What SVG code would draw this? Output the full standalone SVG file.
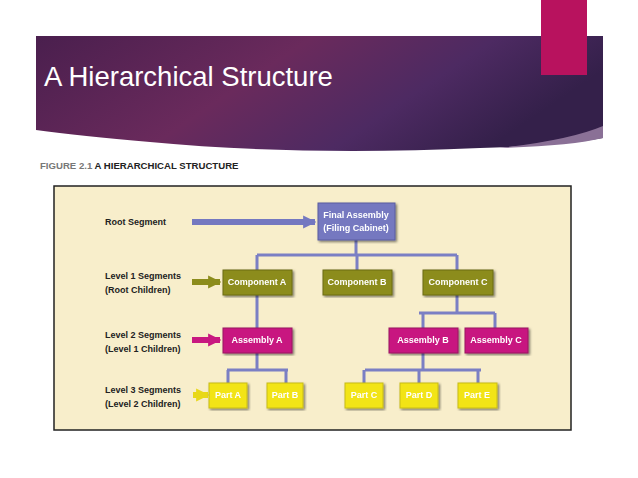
<svg xmlns="http://www.w3.org/2000/svg" width="638" height="478" viewBox="0 0 638 478">
<defs>
<linearGradient id="ban" x1="0" y1="0" x2="1" y2="0.3">
<stop offset="0" stop-color="#4a1f4e"/><stop offset="0.45" stop-color="#6a2a5c"/><stop offset="0.75" stop-color="#4d2a62"/><stop offset="1" stop-color="#34204a"/>
</linearGradient>
<marker id="ah" viewBox="0 0 10 10" refX="9" refY="5" markerWidth="2.2" markerHeight="2.2" orient="auto"><path d="M0,0L10,5L0,10z" fill="context-stroke"/></marker>
<filter id="sh"><feDropShadow dx="1.5" dy="1.5" stdDeviation="0.8" flood-opacity="0.5"/></filter>
</defs>
<style>
.lab{font-family:"Liberation Sans",sans-serif;font-weight:bold;font-size:9px;fill:#222}
.nt{font-family:"Liberation Sans",sans-serif;font-weight:bold;font-size:9px;fill:#fff;text-anchor:middle}
.ln{stroke:#7b7fc4;stroke-width:3;fill:none}
.blue{fill:#7478c0;stroke:#5a5ea0}
.ol{fill:#8c8c1c;stroke:#6b6b10}
.mg{fill:#c81880;stroke:#9a1060}
.ye{fill:#f2e418;stroke:#c8bc10}
</style>
<rect width="638" height="478" fill="#fff"/>
<path d="M36,36H603V138Q560,146 480,148Q300,156 150,142Q80,136 36,130Z" fill="url(#ban)"/>
<path d="M500,148Q570,140 603,126V138Q570,146 500,148Z" fill="#8a7096"/>
<rect x="541" y="0" width="46" height="75" fill="#b8125e"/>
<text x="44" y="86" font-family="Liberation Sans,sans-serif" font-size="27.5" fill="#fff">A Hierarchical Structure</text>
<text x="40" y="169" font-family="Liberation Sans,sans-serif" font-size="9.6" font-weight="bold" fill="#777">FIGURE 2.1 <tspan fill="#222">A HIERARCHICAL STRUCTURE</tspan></text>
<rect x="54" y="186" width="517" height="244" fill="#f8eecb" stroke="#222" stroke-width="1.5"/>
<g id="labels">
<text class="lab" x="105" y="225">Root Segment</text>
<text class="lab" x="105" y="279">Level 1 Segments</text><text class="lab" x="105" y="293">(Root Children)</text>
<text class="lab" x="105" y="338">Level 2 Segments</text><text class="lab" x="105" y="352">(Level 1 Children)</text>
<text class="lab" x="105" y="393">Level 3 Segments</text><text class="lab" x="105" y="407">(Level 2 Children)</text>
</g>
<g id="connectors">
<path class="ln" d="M356,240V255M257,255H457M257,255V270M357,255V270M457,255V270"/>
<path class="ln" d="M257,295V328"/>
<path class="ln" d="M457,295V313M419,313H495M423,313V328M495,313V328"/>
<path class="ln" d="M257,353V370M227,370H288M228,370V383M286,370V383"/>
<path class="ln" d="M423,353V370M365,370H481M364,370V383M419,370V383M478,370V383"/>
<line x1="192" y1="222" x2="315" y2="222" stroke="#7478c0" stroke-width="6" marker-end="url(#ah)"/>
<line x1="192" y1="282" x2="220" y2="282" stroke="#8c8c1c" stroke-width="6" marker-end="url(#ah)"/>
<line x1="192" y1="340" x2="220" y2="340" stroke="#c81880" stroke-width="6" marker-end="url(#ah)"/>
<line x1="193" y1="395" x2="208" y2="395" stroke="#e8d818" stroke-width="6" marker-end="url(#ah)"/>
</g>
<g id="final" filter="url(#sh)"><rect class="blue" x="318" y="203" width="77" height="37"/><text class="nt" x="356" y="218">Final Assembly</text><text class="nt" x="356" y="231">(Filing Cabinet)</text></g>
<g id="compA" filter="url(#sh)"><rect class="ol" x="223" y="270" width="69" height="25"/><text class="nt" x="257" y="285">Component A</text></g>
<g id="compB" filter="url(#sh)"><rect class="ol" x="323" y="270" width="69" height="25"/><text class="nt" x="357" y="285">Component B</text></g>
<g id="compC" filter="url(#sh)"><rect class="ol" x="423" y="270" width="70" height="25"/><text class="nt" x="458" y="285">Component C</text></g>
<g id="asmA" filter="url(#sh)"><rect class="mg" x="223" y="328" width="69" height="25"/><text class="nt" x="257" y="343">Assembly A</text></g>
<g id="asmB" filter="url(#sh)"><rect class="mg" x="389" y="328" width="69" height="25"/><text class="nt" x="423" y="343">Assembly B</text></g>
<g id="asmC" filter="url(#sh)"><rect class="mg" x="465" y="328" width="63" height="25"/><text class="nt" x="496" y="343">Assembly C</text></g>
<g id="partA" filter="url(#sh)"><rect class="ye" x="209" y="383" width="38" height="25"/><text class="nt" x="228" y="398">Part A</text></g>
<g id="partB" filter="url(#sh)"><rect class="ye" x="267" y="383" width="36" height="25"/><text class="nt" x="285" y="398">Part B</text></g>
<g id="partC" filter="url(#sh)"><rect class="ye" x="345" y="383" width="38" height="25"/><text class="nt" x="364" y="398">Part C</text></g>
<g id="partD" filter="url(#sh)"><rect class="ye" x="400" y="383" width="38" height="25"/><text class="nt" x="419" y="398">Part D</text></g>
<g id="partE" filter="url(#sh)"><rect class="ye" x="458" y="383" width="39" height="25"/><text class="nt" x="477" y="398">Part E</text></g>
</svg>
